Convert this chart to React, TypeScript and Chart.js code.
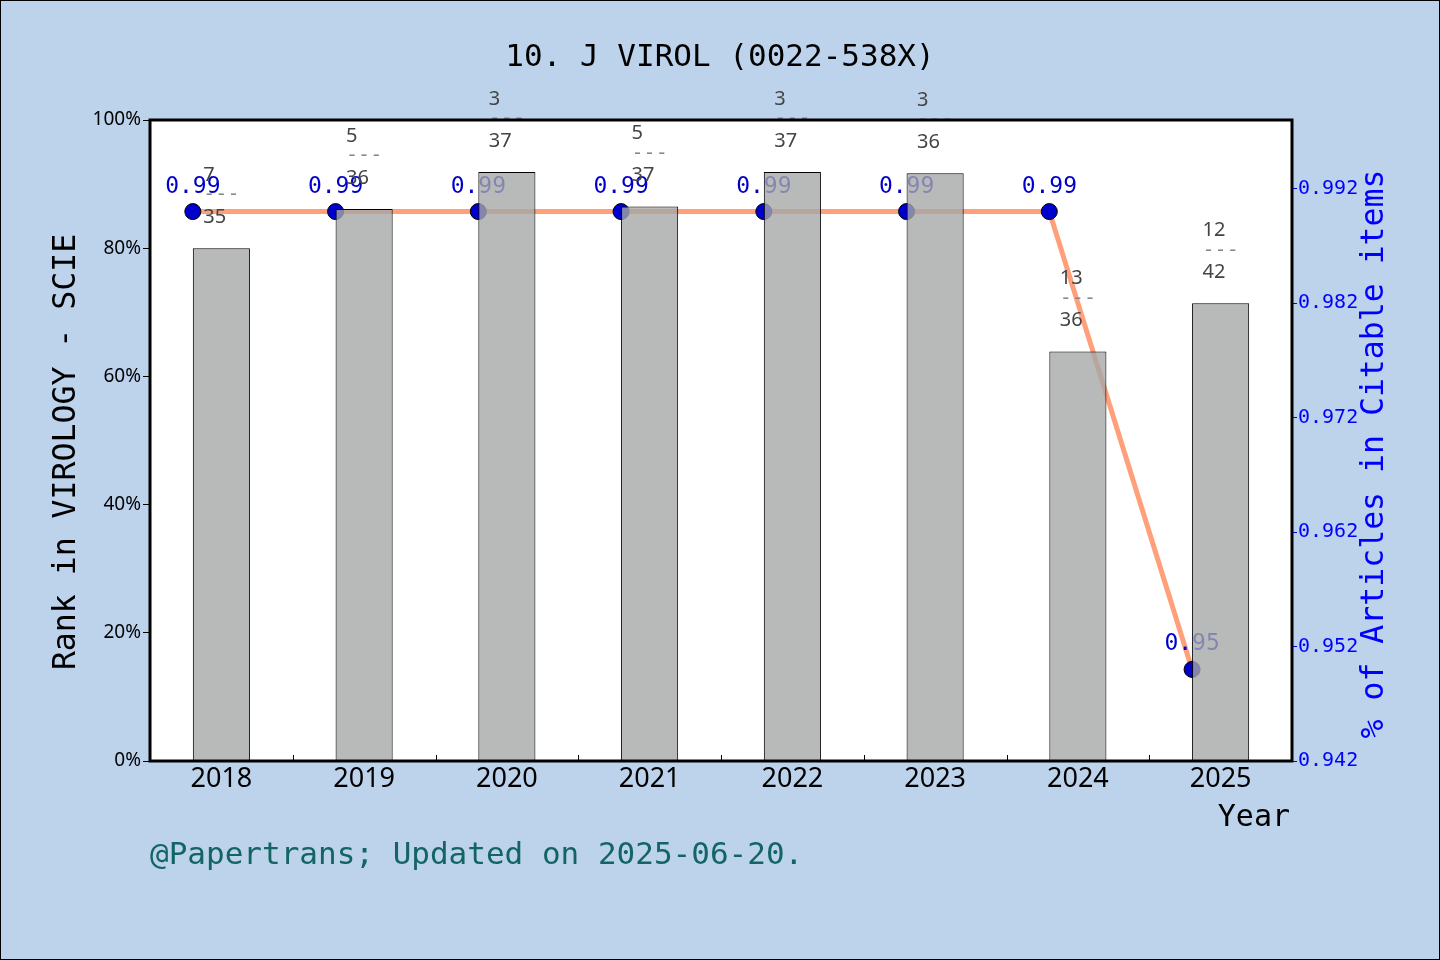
import React, { useEffect, useRef } from 'react'
import { Chart, registerables } from 'chart.js'

Chart.register(...registerables)

// data
const years = ['2018', '2019', '2020', '2021', '2022', '2023', '2024', '2025']
const rankNum = [7, 5, 3, 5, 3, 3, 13, 12]
const rankTotal = [35, 36, 37, 37, 37, 36, 36, 42]
const rankPct = [80.0, 86.1, 91.9, 86.5, 91.9, 91.7, 63.9, 71.4]
const citable = [0.99, 0.99, 0.99, 0.99, 0.99, 0.99, 0.99, 0.95]
const leftTicks = [0, 20, 40, 60, 80, 100]
const rightTicks = [0.942, 0.952, 0.962, 0.972, 0.982, 0.992]

const MONO = "'DejaVu Sans Mono', monospace"
const SANS = "'Noto Sans', sans-serif"
const BG = '#bdd3ec'
const LINE_SHIFT = 0.2 // points sit on the left edge of each bar

const decor = {
  id: 'decor',
  beforeDraw(chart: any) {
    const { ctx, chartArea: a, width, height } = chart
    ctx.save()
    ctx.fillStyle = BG
    ctx.fillRect(0, 0, width, height)
    ctx.fillStyle = '#fff'
    ctx.fillRect(a.left, a.top, a.right - a.left, a.bottom - a.top)
    ctx.restore()
  },
  afterDatasetDraw(chart: any, args: any) {
    if (args.index !== 1) return
    const { ctx } = chart
    const meta = chart.getDatasetMeta(1)
    ctx.save()
    ctx.fillStyle = '#0000cc'
    ctx.font = `23px ${MONO}`
    ctx.textAlign = 'center'
    ctx.textBaseline = 'middle'
    meta.data.forEach((pt: any, i: number) => {
      ctx.fillText(citable[i].toFixed(2), pt.x, pt.y - 25)
    })
    ctx.restore()
  },
  afterDatasetsDraw(chart: any) {
    const { ctx } = chart
    const meta = chart.getDatasetMeta(0)
    ctx.save()
    ctx.textAlign = 'left'
    ctx.textBaseline = 'middle'
    const dashFont = `20px ${MONO}`
    const numFont = `20px ${SANS}`
    ctx.font = dashFont
    const dashW = ctx.measureText('---').width
    meta.data.forEach((bar: any, i: number) => {
      const mid = bar.y - 52
      const left = bar.x - dashW / 2
      ctx.font = numFont
      ctx.fillStyle = '#444'
      ctx.fillText(String(rankNum[i]), left, mid - 21)
      ctx.fillText(String(rankTotal[i]), left, mid + 21)
      ctx.font = dashFont
      ctx.fillStyle = '#888'
      ctx.fillText('---', left, mid - 1)
    })
    ctx.restore()
  },
  afterDraw(chart: any) {
    const { ctx, chartArea: a, width, height } = chart
    const xs = chart.scales.x
    ctx.save()
    // inner minor ticks at category boundaries
    ctx.strokeStyle = '#000'
    ctx.lineWidth = 1
    for (let i = 0; i < years.length - 1; i++) {
      const px = Math.round(xs.getPixelForValue(i + 0.5)) + 0.5
      ctx.beginPath()
      ctx.moveTo(px, a.bottom)
      ctx.lineTo(px, a.bottom - 6)
      ctx.stroke()
    }
    // plot frame
    ctx.lineWidth = 3
    ctx.strokeRect(a.left, a.top, a.right - a.left, a.bottom - a.top)

    // titles
    ctx.fillStyle = '#000'
    ctx.textAlign = 'center'
    ctx.textBaseline = 'middle'
    ctx.font = `31px ${MONO}`
    ctx.fillText('10. J VIROL (0022-538X)', 720, 58)
    ctx.textAlign = 'right'
    ctx.font = `30px ${MONO}`
    ctx.fillText('Year', 1290, 818)

    ctx.save()
    ctx.translate(67, 452)
    ctx.rotate(-Math.PI / 2)
    ctx.textAlign = 'center'
    ctx.font = `31.5px ${MONO}`
    ctx.fillText('Rank in VIROLOGY - SCIE', 0, 0)
    ctx.restore()

    ctx.save()
    ctx.translate(1375, 454)
    ctx.rotate(-Math.PI / 2)
    ctx.textAlign = 'center'
    ctx.fillStyle = '#0000ff'
    ctx.font = `31.5px ${MONO}`
    ctx.fillText('% of Articles in Citable items', 0, 0)
    ctx.restore()

    ctx.textAlign = 'left'
    ctx.fillStyle = '#136563'
    ctx.font = `31px ${MONO}`
    ctx.fillText('@Papertrans; Updated on 2025-06-20.', 150, 856)

    // outer border
    ctx.lineWidth = 1
    ctx.strokeStyle = '#000'
    ctx.strokeRect(0.5, 0.5, width - 1, height - 1)
    ctx.restore()
  },
}

export default function App() {
  const canvasRef = useRef<HTMLCanvasElement>(null)
  const chartRef = useRef<Chart | null>(null)

  useEffect(() => {
    if (!canvasRef.current) return
    const ctx = canvasRef.current.getContext('2d')
    if (!ctx) return

    chartRef.current = new Chart(ctx, {
      type: 'bar',
      data: {
        labels: years,
        datasets: [
          {
            type: 'bar',
            label: 'Rank',
            data: rankPct,
            yAxisID: 'y',
            xAxisID: 'x',
            backgroundColor: 'rgba(166,167,168,0.8)',
            borderColor: '#000',
            borderWidth: 1,
            barPercentage: 0.4,
            categoryPercentage: 1,
            grouped: false,
            order: 1,
          },
          {
            type: 'line',
            label: 'Citable',
            data: citable.map((v, i) => ({ x: i - LINE_SHIFT, y: v })),
            yAxisID: 'y1',
            xAxisID: 'x2',
            borderColor: '#ffa07a',
            borderWidth: 5,
            pointRadius: 8,
            pointBackgroundColor: '#0000cc',
            pointBorderColor: '#000',
            pointBorderWidth: 1,
            tension: 0,
            order: 2,
          } as any,
        ],
      },
      options: {
        animation: false,
        responsive: false,
        devicePixelRatio: 1,
        layout: { padding: { top: 120, left: 0, right: 0, bottom: 0 } },
        plugins: {
          legend: { display: false },
          tooltip: { enabled: false },
        },
        scales: {
          x: {
            type: 'category',
            offset: true,
            border: { display: false },
            grid: { display: false },
            ticks: { color: '#000', font: { family: SANS, size: 27 }, padding: -6, maxRotation: 0 },
            afterFit: (s: any) => { s.height = 199 },
          },
          x2: {
            type: 'linear',
            display: false,
            offset: false,
            min: -0.5,
            max: years.length - 0.5,
          },
          y: {
            position: 'left',
            min: 0,
            max: 100,
            border: { display: false },
            grid: { drawOnChartArea: false, tickLength: 7, color: '#000' },
            afterBuildTicks: (s: any) => { s.ticks = leftTicks.map(v => ({ value: v })) },
            ticks: {
              color: '#000',
              font: { family: SANS, size: 19 },
              padding: 2,
              callback: (v: any) => `${v}%`,
            },
            afterFit: (s: any) => { s.width = 150 },
          },
          y1: {
            position: 'right',
            min: 0.942,
            max: 0.998,
            border: { display: false },
            grid: { drawOnChartArea: false, tickLength: 5, color: '#0000ff' },
            afterBuildTicks: (s: any) => { s.ticks = rightTicks.map(v => ({ value: v })) },
            ticks: {
              color: '#0000ff',
              font: { family: MONO, size: 20 },
              padding: 1,
              callback: (v: any) => Number(v).toFixed(3),
            },
            afterFit: (s: any) => { s.width = 148 },
          },
        },
      },
      plugins: [decor],
    })

    return () => {
      if (chartRef.current) {
        chartRef.current.destroy()
        chartRef.current = null
      }
    }
  }, [])

  return (
    <div style={{ position: 'absolute', left: 0, top: 0, width: 1440, height: 960 }}>
      <canvas ref={canvasRef} width={1440} height={960} />
    </div>
  )
}
